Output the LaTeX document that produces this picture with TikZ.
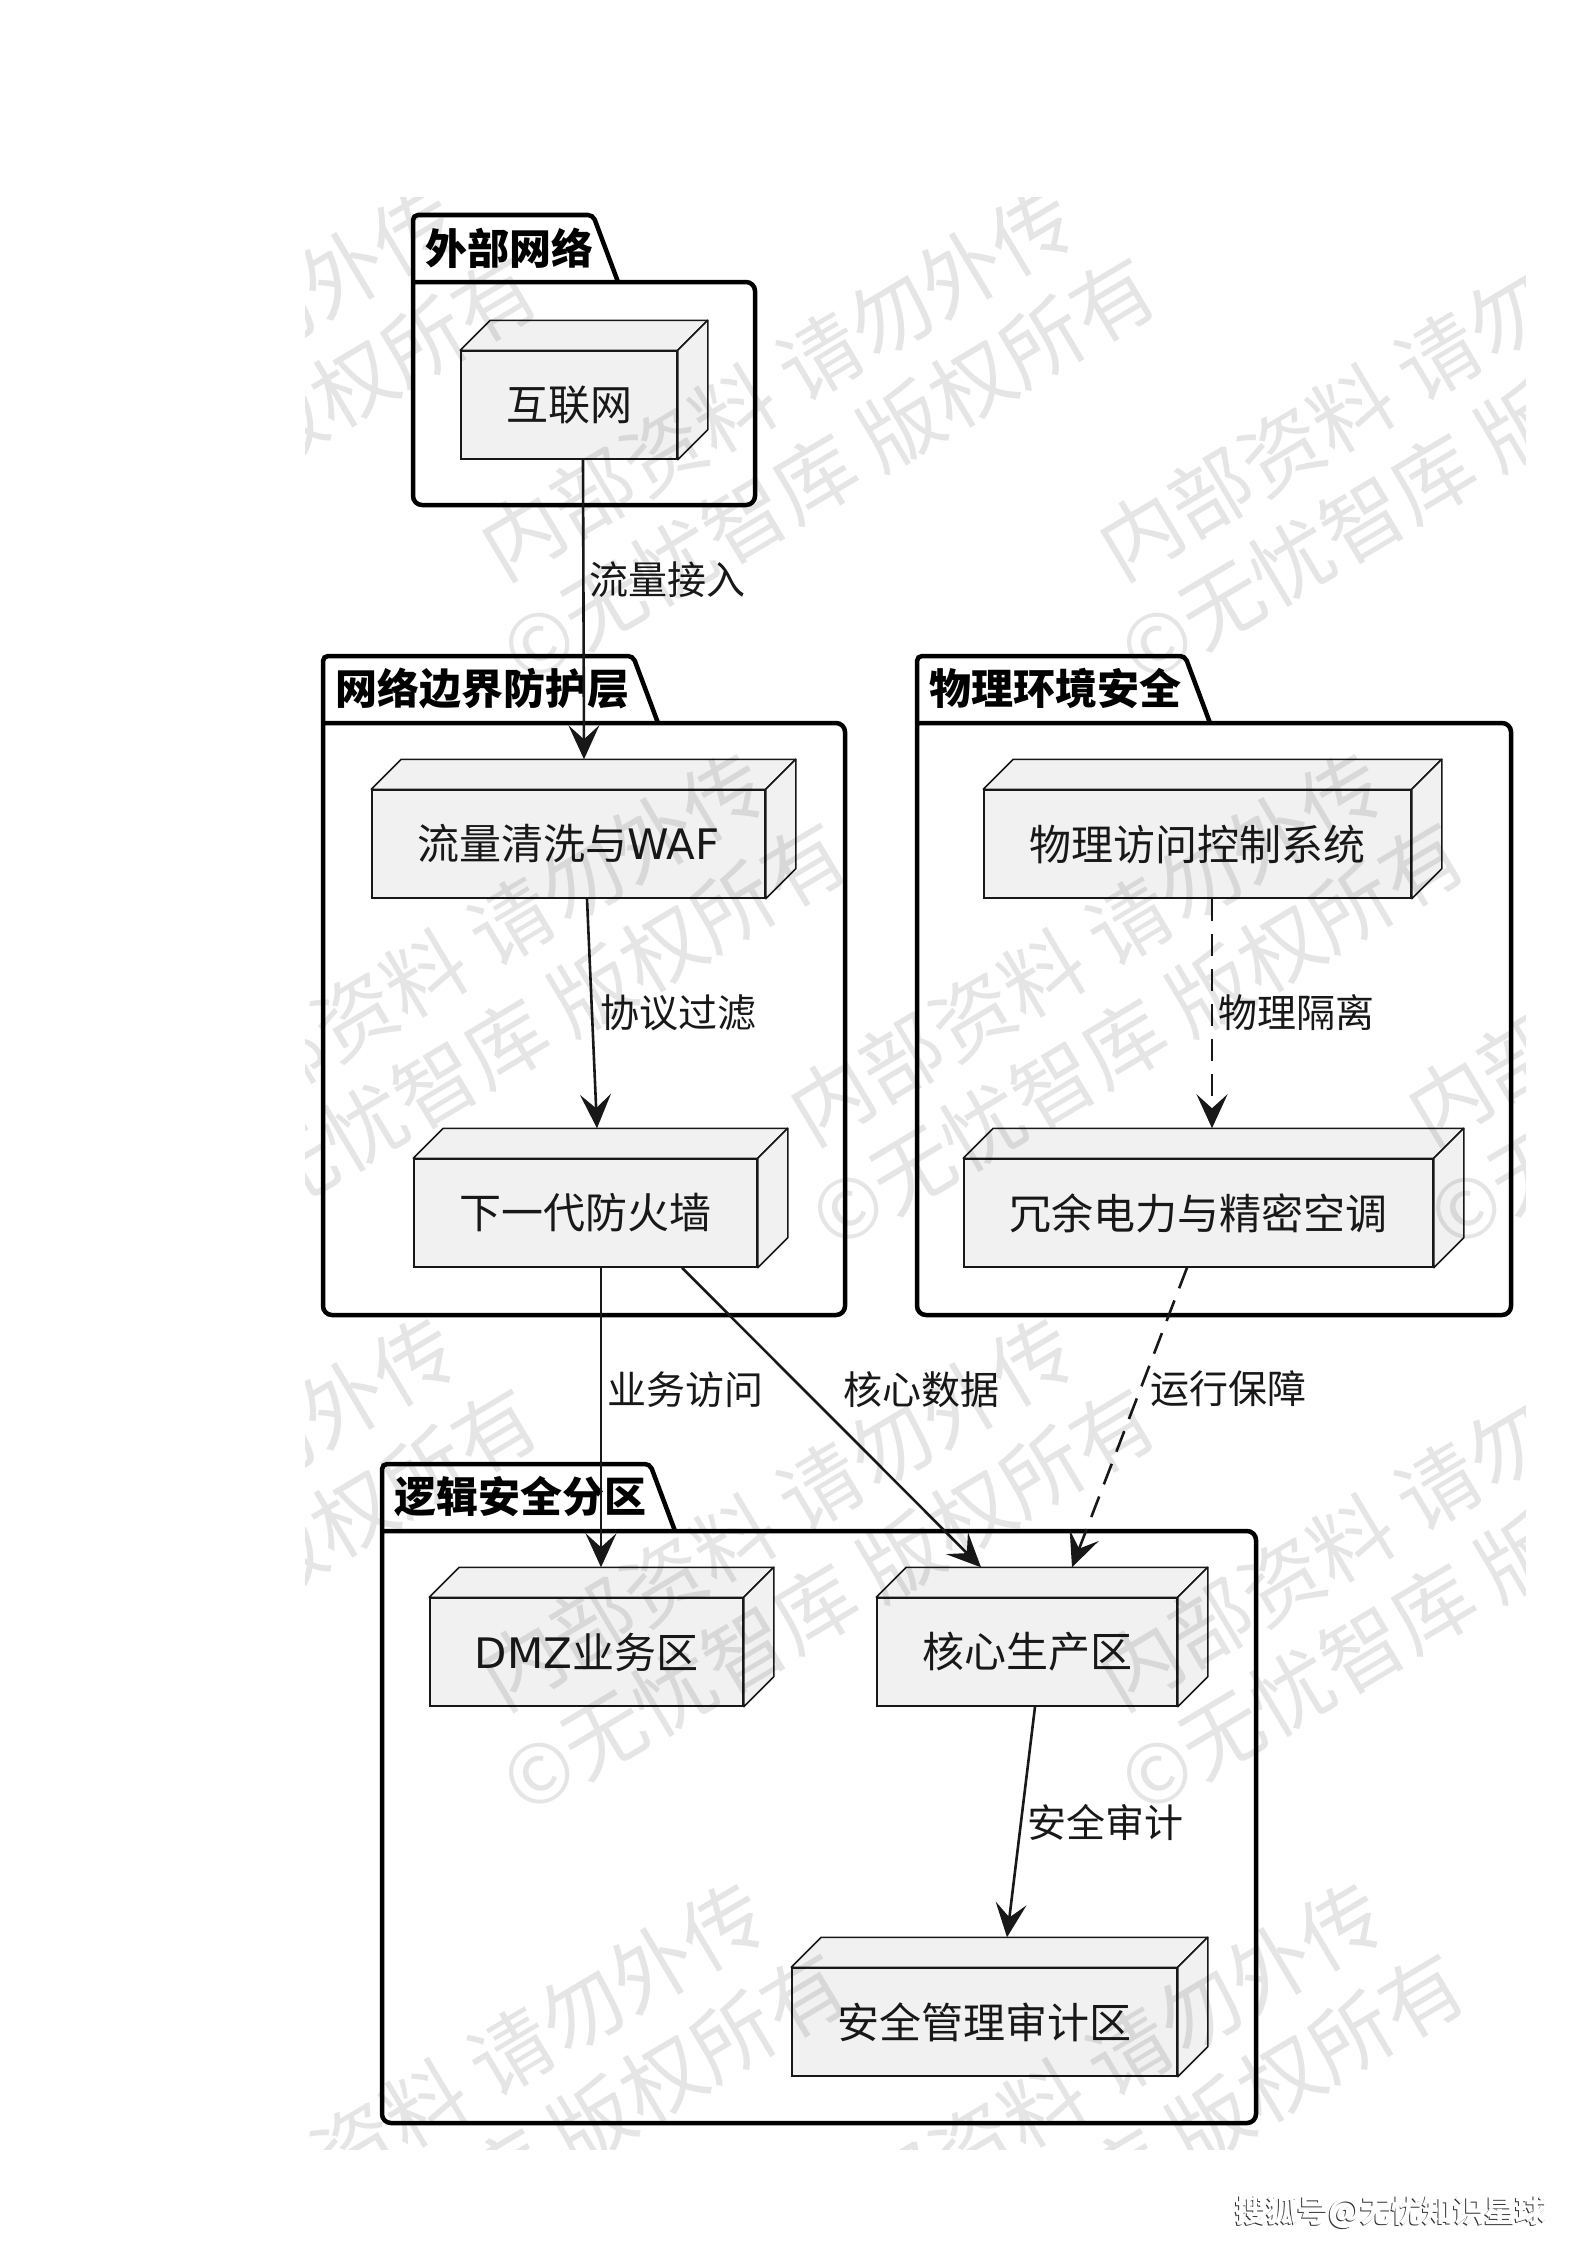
\documentclass[tikz,border=0pt]{standalone}
\usepackage{fontspec}
\newfontfamily\cjk{Noto Sans CJK SC}
\newfontfamily\dejavu{DejaVu Sans}
\usetikzlibrary{arrows.meta,calc}
\definecolor{nodefill}{HTML}{F1F1F1}
\definecolor{nodeline}{HTML}{181818}
\tikzset{
  box/.style={draw=nodeline, line width=1.5pt, fill=nodefill, minimum height=108pt,
    inner sep=0pt, font=\cjk\fontsize{42}{50}\selectfont, text=nodeline},
  face/.style={draw=nodeline, line width=1.5pt, fill=nodefill, line join=round},
  lbl/.style={anchor=west, inner sep=0pt, font=\cjk\fontsize{39}{46}\selectfont, text=nodeline},
  ptitle/.style={anchor=west, inner sep=0pt, font=\cjk\bfseries\fontsize{42}{50}\selectfont},
  pkg/.style={draw=black, line width=4.5pt},
  arr/.style={draw=nodeline, line width=2.6pt, -{Stealth[length=34pt,width=31pt,inset=14pt]}},
  darr/.style={arr, dash pattern=on 22pt off 13pt},
  wm/.style={inner sep=0pt, align=center, text=black, text opacity=0.1,
    font=\cjk\fontsize{82}{101}\selectfont, rotate=30.8},
  credit/.style={inner sep=0pt, font=\cjk\bfseries\fontsize{31}{36}\selectfont},
}
% 3D faces of a node box
\newcommand\threed[1]{%
  \draw[face] (#1.north west) -- ++(30pt,30pt) -- ([shift={(30pt,30pt)}]#1.north east) -- (#1.north east) -- cycle;
  \draw[face] (#1.north east) -- ([shift={(30pt,30pt)}]#1.north east) -- ([shift={(30pt,30pt)}]#1.south east) -- (#1.south east) -- cycle;
}
% package outline: L T Tb R B Ct Se
\newcommand\pkgshape[7]{%
  \draw[pkg, rounded corners=9pt] (#1,#3) -- (#4,#3) -- (#4,#5) -- (#1,#5) -- (#1,#3);
  \draw[pkg, rounded corners=5pt] (#1,#3) -- (#1,#2) -- (#6,#2) -- (#7,#3);
}
\begin{document}
\begin{tikzpicture}[x=1pt,y=-1pt]
\fill[white] (0,0) rectangle (1587,2245);
\path[use as bounding box] (0,0) rectangle (1587,2245);

% packages
\pkgshape{413}{215}{282}{755}{505}{593}{618}
\node[ptitle] (p1) at (425,248) {外部网络};
\pkgshape{323}{656}{723}{845}{1315}{633}{658}
\node[ptitle] (p2) at (335,689) {网络边界防护层};
\pkgshape{917}{656}{723}{1511}{1315}{1185}{1210}
\node[ptitle] (p3) at (929,689) {物理环境安全};
\pkgshape{382}{1464}{1531}{1256}{2123}{650}{675}
\node[ptitle] (p4) at (394,1497) {逻辑安全分区};

% nodes
\node[box, minimum width=216pt] (inet) at (569,405) {互联网};
\threed{inet}
\node[box, minimum width=393pt] (waf) at (568.5,844) {流量清洗与{\dejavu WAF}};
\threed{waf}
\node[box, minimum width=343pt] (ngfw) at (585.5,1213) {下一代防火墙};
\threed{ngfw}
\node[box, minimum width=427pt] (pac) at (1197.5,844) {物理访问控制系统};
\threed{pac}
\node[box, minimum width=469pt] (ups) at (1198.5,1213) {冗余电力与精密空调};
\threed{ups}
\node[box, minimum width=313pt] (dmz) at (586.5,1652) {{\dejavu DMZ}业务区};
\threed{dmz}
\node[box, minimum width=300pt] (core) at (1027,1652) {核心生产区};
\threed{core}
\node[box, minimum width=385pt] (audit) at (984.5,2022) {安全管理审计区};
\threed{audit}

% connectors
\draw[arr] ([xshift=14pt]inet.south) -- ([xshift=15.5pt,yshift=30pt]waf.north);
\draw[arr] ([xshift=18.5pt]waf.south) -- ([xshift=11.5pt,yshift=30pt]ngfw.north);
\draw[darr] ([xshift=14.5pt]pac.south) -- ([xshift=13.5pt,yshift=30pt]ups.north);
\draw[arr] ([xshift=15.5pt]ngfw.south) -- ([xshift=14.5pt,yshift=30pt]dmz.north);
\draw[arr] ([xshift=96.5pt]ngfw.south) -- ([xshift=-46pt,yshift=30pt]core.north);
\draw[darr] ([xshift=-11.5pt]ups.south) -- ([xshift=45pt,yshift=30pt]core.north);
\draw[arr] ([xshift=8pt]core.south) -- ([xshift=22.5pt,yshift=30pt]audit.north);

% connector labels
\node[lbl] (l1) at (589,580) {流量接入};
\node[lbl] (l2) at (600,1013) {协议过滤};
\node[lbl] (l3) at (1218,1013) {物理隔离};
\node[lbl] (l4) at (607,1390) {业务访问};
\node[lbl] (l5) at (843,1390) {核心数据};
\node[lbl] (l6) at (1150,1389) {运行保障};
\node[lbl] (l7) at (1027,1822) {安全审计};

% watermark
\begin{scope}
\clip (305,198) rectangle (1525,2149);
\foreach \cx/\cy [count=\i] in {185/426, 803/426, 1421/426, 494/991, 1112/991, 1730/991,
    185/1556, 803/1556, 1421/1556, 494/2121, 1112/2121} {
  \node[wm] (wm\i) at (\cx,\cy) {内部资料 请勿外传\\©无忧智库 版权所有};
}
\end{scope}

% attribution
\node[credit, text=black!80] (sohus) at (1390,2213) {搜狐号@无忧知识星球};
\node[credit, text=white] (sohu) at (1391.2,2211.8) {搜狐号@无忧知识星球};
\end{tikzpicture}
\end{document}
